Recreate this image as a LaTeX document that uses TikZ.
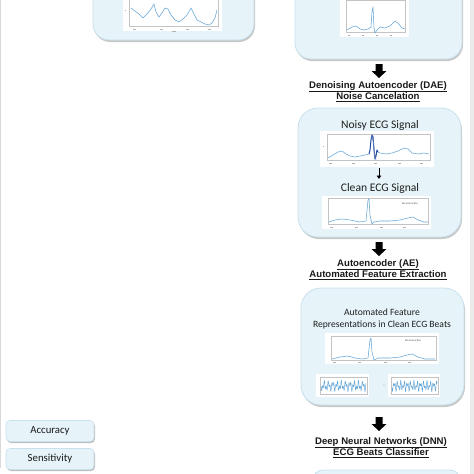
\documentclass[tikz,border=0pt]{standalone}
\usepackage{fontspec}
\setmainfont{Carlito}
\newfontfamily\arialfont{Liberation Sans}
\usetikzlibrary{shadows,arrows.meta}
\definecolor{boxfill}{RGB}{230,244,250}
\definecolor{boxedge}{RGB}{200,224,236}
\definecolor{curve}{RGB}{100,165,215}
\definecolor{darkcurve}{RGB}{35,75,160}
\definecolor{framegray}{RGB}{195,195,195}
\begin{document}
\begin{tikzpicture}[x=1pt,y=-1pt,
  box/.style={fill=boxfill, draw=boxedge, line width=0.8pt, rounded corners=16pt, inner sep=0pt,
    drop shadow={shadow xshift=1pt, shadow yshift=-2pt, fill=black, opacity=0.22}},
  smallbox/.style={fill=boxfill, draw=boxedge, line width=0.6pt, rounded corners=4pt, inner sep=0pt,
    minimum width=88pt, minimum height=21pt, font=\fontsize{10.8}{12}\selectfont, text=black!90,
    drop shadow={shadow xshift=1pt, shadow yshift=-1.5pt, fill=black, opacity=0.25}},
  blockarrow/.style={fill=black},
  hdr/.style={font=\arialfont\bfseries\fontsize{9.6}{11.6}\selectfont, align=center, text=black!90, inner sep=0pt},
  lbl/.style={font=\fontsize{11.6}{13}\selectfont, text=black!88, inner sep=0pt},
  img/.style={fill=white, draw=none, inner sep=0pt},
  axes/.style={draw=framegray, line width=0.3pt},
  crv/.style={draw=curve, line width=0.55pt, line join=round},
  tick/.style={draw=gray!60, line width=0.4pt},
  tiny/.style={font=\fontsize{2.6}{3}\selectfont, text=black!70, inner sep=0pt}
]
\useasboundingbox (0,0) rectangle (474,474);
\fill[white] (0,0) rectangle (474,474);
% borders
\fill[gray!16] (470,0) rectangle (474,474);
\draw[gray!30, line width=1.2pt] (0.6,0) -- (0.6,468);

% ---------- top-left box ----------
\node[box, minimum width=161pt, minimum height=62pt] (tl) at (173.5,9) {};
\node[img, minimum width=99pt, minimum height=36pt] (tlimg) at (172.5,13) {};
\draw[axes] (129,-3) rectangle (218,26);
\draw[tick] (133,29) -- (136,29) (160,29) -- (163,29) (186,29) -- (189,29) (208,29) -- (211,29) (172,31) -- (176,31);
\draw[tick] (125,10) -- (126,10);
\draw[crv] (131,8) -- (135,11) -- (139,14) -- (143,18) -- (147,14) -- (151,9) -- (154,4) -- (156,12) -- (159,17) -- (162,13) -- (165,8) -- (168,9) -- (171,15) -- (175,20) -- (179,22) -- (183,19) -- (187,15) -- (191,8) -- (194,14) -- (197,20) -- (201,22) -- (205,24) -- (209,25) -- (212,23) -- (215,18) -- (217,10);

% ---------- top-right box ----------
\node[box, minimum width=167pt, minimum height=80pt] (tr) at (378.5,19) {};
\node[img, minimum width=69pt, minimum height=40pt] (trimg) at (374.5,17) {};
\draw[axes] (346,0) rectangle (405,32);
\draw[tick] (348,35) -- (350,35) (362,35) -- (364,35) (376,35) -- (378,35) (390,35) -- (392,35);
\draw[crv] (347,30) -- (352,27) -- (356,26) -- (360,29) -- (364,30) -- (368,29) -- (371,27) -- (372,12) -- (373,7) -- (374,28) -- (375,33) -- (377,30) -- (380,27) -- (385,28) -- (390,26) -- (395,21) -- (398,23) -- (402,28) -- (405,29);

% arrow 1 and header
\coordinate (a1) at (379,64);
\fill[blockarrow] (a1) ++(-3.5,0) -- ++(7,0) -- ++(0,7) -- ++(4,0) -- ++(-7.5,7) -- ++(-7.5,-7) -- ++(4,0) -- cycle;
\node[hdr] (h1) at (378,91.5) {\underline{Denoising Autoencoder (DAE)}\\\underline{Noise Cancelation}};

% ---------- box 2 ----------
\node[box, minimum width=163pt, minimum height=129pt, rounded corners=20pt] (b2) at (379.5,172.5) {};
\node[lbl] (noisy) at (380,125) {Noisy ECG Signal};
\node[img, minimum width=114pt, minimum height=36pt] (p1) at (377,149) {};
\draw[axes] (327,134) rectangle (430,160);
\draw[tick] (329,163) -- (332,163) (352,163) -- (355,163) (374,163) -- (377,163) (398,163) -- (401,163) (420,163) -- (423,163);
\draw[tick] (323,146) -- (324,146);
\draw[crv] (328,158) -- (333,155) -- (338,152) -- (342,151) -- (346,154) -- (350,156) -- (355,157) -- (360,156) -- (365,155) -- (369,154);
\draw[darkcurve, line width=1pt, line join=round] (369,154) -- (370,150) -- (371,140) -- (372,135) -- (373,137) -- (374,150) -- (375,159) -- (376,156) -- (377,150) -- (378,152);
\draw[darkcurve!70, line width=0.6pt] (371.5,136) -- (373.5,142) -- (374.5,155) -- (376,160);
\draw[crv] (378,152) -- (380,153) -- (386,154) -- (392,153) -- (398,151) -- (404,148) -- (408,149) -- (412,153) -- (418,154) -- (424,153) -- (429,154);
\coordinate (s1) at (379,168);
\coordinate (s2) at (379,179);
\draw[line width=0.9pt, -{Triangle[length=3.5pt,width=4.5pt]}] (s1) -- (s2);
\node[lbl] (clean) at (380,188) {Clean ECG Signal};
\node[img, minimum width=109pt, minimum height=33pt] (p2) at (376.5,212.5) {};
\draw[axes] (328,198) rectangle (428,224);
\draw[tick] (330,227) -- (333,227) (355,227) -- (358,227) (380,227) -- (383,227) (403,227) -- (406,227);
\draw[crv] (329,222) -- (335,220) -- (342,219) -- (350,220) -- (360,222) -- (366,221) -- (368,200) -- (369,199) -- (370,215) -- (372,224) -- (374,222) -- (380,221) -- (390,221) -- (400,220) -- (408,218) -- (413,217) -- (418,220) -- (424,222) -- (428,222);
\node[tiny] (rec1) at (410,204) {Reconstruction};

% arrow 2 and header
\coordinate (a2) at (379,242);
\fill[blockarrow] (a2) ++(-3.5,0) -- ++(7,0) -- ++(0,7) -- ++(4,0) -- ++(-7.5,7) -- ++(-7.5,-7) -- ++(4,0) -- cycle;
\node[hdr] (h2) at (378,269.5) {\underline{Autoencoder (AE)}\\\underline{Automated Feature Extraction}};

% ---------- box 3 ----------
\node[box, minimum width=163pt, minimum height=117pt, rounded corners=20pt] (b3) at (382.5,346.5) {};
\node[lbl, font=\fontsize{9.6}{12.5}\selectfont, align=center] (rep) at (382,319) {Automated Feature\\Representations in Clean ECG Beats};
\node[img, minimum width=114pt, minimum height=31pt] (p3) at (382,348.5) {};
\draw[axes] (331,336) rectangle (436,360);
\draw[tick] (333,362.5) -- (336,362.5) (358,362.5) -- (361,362.5) (384,362.5) -- (387,362.5) (408,362.5) -- (411,362.5);
\draw[crv] (332,359) -- (340,357) -- (348,356) -- (355,358) -- (362,359) -- (368,358) -- (370,340) -- (371,338) -- (372,352) -- (374,360) -- (378,358) -- (390,358) -- (400,357) -- (407,355) -- (412,354) -- (418,357) -- (425,359) -- (435,359);
\node[tiny] (rec2) at (413,341) {Reconstruction};
\node[img, minimum width=53pt, minimum height=23pt] (p4) at (342.5,385.5) {};
\draw[axes] (320,377) rectangle (367,394);
\draw[crv, line width=0.45pt] plot[domain=0:45, samples=130] ({\x+321}, {386 + 6*sin(\x*137)*cos(\x*53)});
\node[img, minimum width=52pt, minimum height=23pt] (p5) at (414,385.5) {};
\draw[axes] (391,377) rectangle (438,394);
\draw[crv, line width=0.45pt] plot[domain=0:45, samples=130] ({\x+392}, {386 + 6*sin(\x*151+20)*cos(\x*41)});
\fill[gray!60] (384,385) circle (0.6);

% arrow 3 and header
\coordinate (a3) at (379,417);
\fill[blockarrow] (a3) ++(-3.5,0) -- ++(7,0) -- ++(0,7) -- ++(4,0) -- ++(-7.5,7) -- ++(-7.5,-7) -- ++(4,0) -- cycle;
\node[hdr] (h3) at (381,447.5) {\underline{Deep Neural Networks (DNN)}\\\underline{ECG Beats Classifier}};

% bottom box (partial)
\node[box, minimum width=147pt, minimum height=40pt, rounded corners=10pt] (b4) at (386.5,490) {};

% ---------- left metric boxes ----------
\node[smallbox] (acc) at (50,431) {Accuracy};
\node[smallbox] (sen) at (50,459) {Sensitivity};
\end{tikzpicture}
\end{document}
